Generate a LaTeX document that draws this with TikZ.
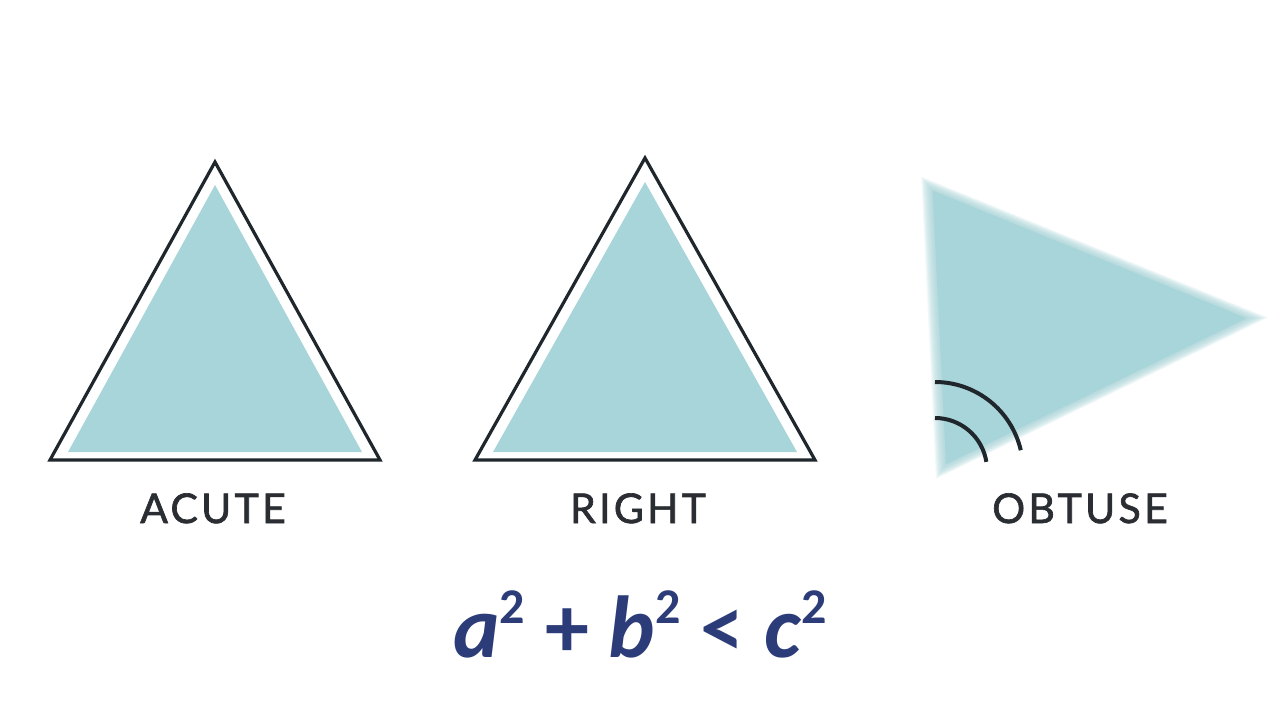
\documentclass[tikz,border=0pt]{standalone}
\usepackage{fontspec}
\setmainfont{Lato}
\newfontfamily\eqfont{Carlito}
\definecolor{edgec}{HTML}{1F272C}
\definecolor{fillc}{HTML}{A8D5D9}
\definecolor{labc}{HTML}{2A2E32}
\definecolor{eqc}{HTML}{2C3C78}
\tikzset{
  outline/.style={draw=edgec,line width=3.2pt,line join=miter},
  innerfill/.style={fill=fillc},
  lab/.style={anchor=base,text=labc,font=\fontsize{41}{41}\selectfont\addfontfeatures{LetterSpace=8,FakeBold=1.6}},
  arcline/.style={draw=edgec,line width=4pt}
}
\begin{document}
\begin{tikzpicture}[x=1pt,y=-1pt]
\useasboundingbox[fill=white] (0,0) rectangle (1280,720);
% acute
\draw[outline] (215,162) -- (380,460) -- (50,460) -- cycle;
\fill[innerfill] (215,185) -- (362,452) -- (68,452) -- cycle;
% right
\draw[outline] (645,158) -- (815,460) -- (475,460) -- cycle;
\fill[innerfill] (645,182) -- (797,452) -- (493,452) -- cycle;
% obtuse (soft-edged)
\coordinate (G) at (1042,324);
\foreach \s in {1.06,1.05,1.04,1.03,1.02,1.01,1.0,0.99,0.98,0.97} {
  \fill[fillc,opacity=0.14,scale around={\s:(G)}] (928,185) -- (1255,318) -- (942,470) -- cycle;
}
\fill[fillc,scale around={0.96:(G)}] (928,185) -- (1255,318) -- (942,470) -- cycle;
\draw[arcline] (935,382) arc[start angle=-90,end angle=-13,radius=88];
\draw[arcline] (935,418) arc[start angle=-90,end angle=-9,radius=52];
% labels
\node[lab] (acute) at (213,523) {ACUTE};
\node[lab] (right) at (638,523) {RIGHT};
\node[lab] (obtuse) at (1080,523) {OBTUSE};
% equation
\node[anchor=base,text=eqc,font=\eqfont\bfseries\fontsize{88}{88}\selectfont] (eq) at (640,657)
  {\textit{a}\raisebox{34pt}{\fontsize{50}{50}\selectfont 2} + \textit{b}\raisebox{34pt}{\fontsize{50}{50}\selectfont 2} < \textit{c}\raisebox{34pt}{\fontsize{50}{50}\selectfont 2}};
\end{tikzpicture}
\end{document}
